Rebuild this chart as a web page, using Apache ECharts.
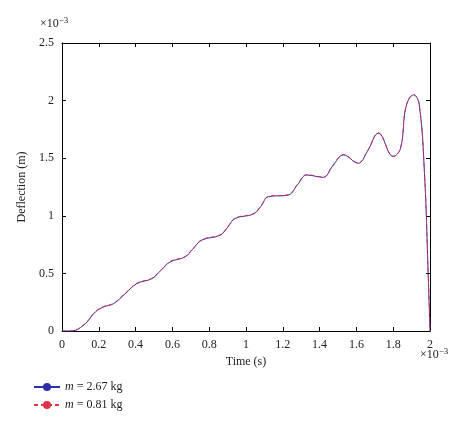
<!DOCTYPE html>
<html>
<head>
<meta charset="utf-8">
<script src="https://cdn.jsdelivr.net/npm/echarts@6/dist/echarts.min.js"></script>
<style>html,body{margin:0;background:#fff}#c{width:474px;height:443px}</style>
</head>
<body>
<div id="c"></div>
<script>
// time in units of 1e-3 s, deflection in units of 1e-3 m
var timeMs = [0, 0.04, 0.072, 0.10, 0.136, 0.181, 0.226, 0.281, 0.344, 0.407, 0.489, 0.54, 0.588, 0.67, 0.71, 0.76, 0.86, 0.90, 0.941, 1.04, 1.08, 1.122, 1.23, 1.28, 1.33, 1.42, 1.47, 1.53, 1.61, 1.66, 1.72, 1.80, 1.84, 1.87, 1.91, 1.94, 1.97, 1.99, 2.0];
var defl1 = [0, 0, 0.005, 0.03, 0.078, 0.165, 0.209, 0.238, 0.325, 0.412, 0.455, 0.53, 0.600, 0.644, 0.71, 0.789, 0.832, 0.90, 0.977, 1.015, 1.08, 1.166, 1.18, 1.27, 1.354, 1.334, 1.43, 1.528, 1.456, 1.56, 1.717, 1.514, 1.586, 1.949, 2.05, 1.978, 1.369, 0.499, 0];
var defl2 = [0, 0, 0.006, 0.032, 0.08, 0.168, 0.212, 0.241, 0.328, 0.415, 0.458, 0.533, 0.603, 0.647, 0.713, 0.792, 0.835, 0.903, 0.98, 1.018, 1.083, 1.169, 1.183, 1.273, 1.357, 1.337, 1.433, 1.531, 1.459, 1.563, 1.72, 1.517, 1.589, 1.952, 2.053, 1.981, 1.372, 0.502, 0];
var xTicks = ['0', '0.2', '0.4', '0.6', '0.8', '1', '1.2', '1.4', '1.6', '1.8', '2'];
var yTicks = ['0', '0.5', '1', '1.5', '2', '2.5'];

var serif = 'Liberation Serif';
function pairs(ys) { return timeMs.map(function (t, i) { return [t, ys[i]]; }); }
var chart = echarts.init(document.getElementById('c'));
var baseAxisX = { type: 'value', min: 0, max: 2, interval: 0.2, splitLine: { show: false },
  axisLine: { show: true, onZero: false, lineStyle: { color: '#000' } }, axisTick: { show: true, inside: true, length: 4, lineStyle: { color: '#000' } } };
var baseAxisY = { type: 'value', min: 0, max: 2.5, interval: 0.5, splitLine: { show: false },
  axisLine: { show: true, onZero: false, lineStyle: { color: '#000' } }, axisTick: { show: true, inside: true, length: 4, lineStyle: { color: '#000' } } };
chart.setOption({
  animation: false,
  textStyle: { fontFamily: serif },
  grid: { left: 62, right: 44, top: 43, bottom: 112 },
  legend: {
    orient: 'vertical', left: 28, top: 376, itemWidth: 26, itemHeight: 10, itemGap: 6,
    textStyle: { fontFamily: serif, fontSize: 12, color: '#222',
      rich: { i: { fontStyle: 'italic', fontFamily: serif, fontSize: 12 } } },
    formatter: function (n) { return n === 'a' ? '{i|m} = 2.67 kg' : '{i|m} = 0.81 kg'; },
    data: ['a', 'b']
  },
  xAxis: [
    Object.assign({}, baseAxisX, { position: 'bottom', name: 'Time (s)', nameLocation: 'middle', nameGap: 22,
      nameTextStyle: { fontFamily: serif, fontSize: 12, color: '#222' },
      axisLabel: { fontFamily: serif, fontSize: 12, color: '#222', formatter: function (v) { return xTicks[Math.round(v / 0.2)]; } } }),
    Object.assign({}, baseAxisX, { position: 'top', axisLabel: { show: false } })
  ],
  yAxis: [
    Object.assign({}, baseAxisY, { position: 'left', name: 'Deflection (m)', nameLocation: 'middle', nameGap: 33,
      nameTextStyle: { fontFamily: serif, fontSize: 12, color: '#222' },
      axisLabel: { fontFamily: serif, fontSize: 12, color: '#222', formatter: function (v) { return yTicks[Math.round(v / 0.5)]; } } }),
    Object.assign({}, baseAxisY, { position: 'right', axisLabel: { show: false } })
  ],
  graphic: [
    { type: 'text', left: 40, top: 16, style: { text: '×10{s|−3}', fontFamily: serif, fontSize: 12, fill: '#222', rich: { s: { fontSize: 9, verticalAlign: 'top', fontFamily: serif, padding: [0, 0, 6, 0] } } } },
    { type: 'text', left: 420, top: 347, style: { text: '×10{s|−3}', fontFamily: serif, fontSize: 12, fill: '#222', rich: { s: { fontSize: 9, verticalAlign: 'top', fontFamily: serif, padding: [0, 0, 6, 0] } } } }
  ],
  series: [
    { name: 'a', type: 'line', smooth: 0.4, symbol: 'none', data: pairs(defl1), itemStyle: { color: '#2b2fa8' }, lineStyle: { color: '#2b2fa8', width: 1 } },
    { name: 'b', type: 'line', smooth: 0.4, symbol: 'none', data: pairs(defl2), itemStyle: { color: '#e0304a' }, lineStyle: { color: '#e0304a', width: 1, type: [4, 3] } }
  ]
});
</script>
</body>
</html>
